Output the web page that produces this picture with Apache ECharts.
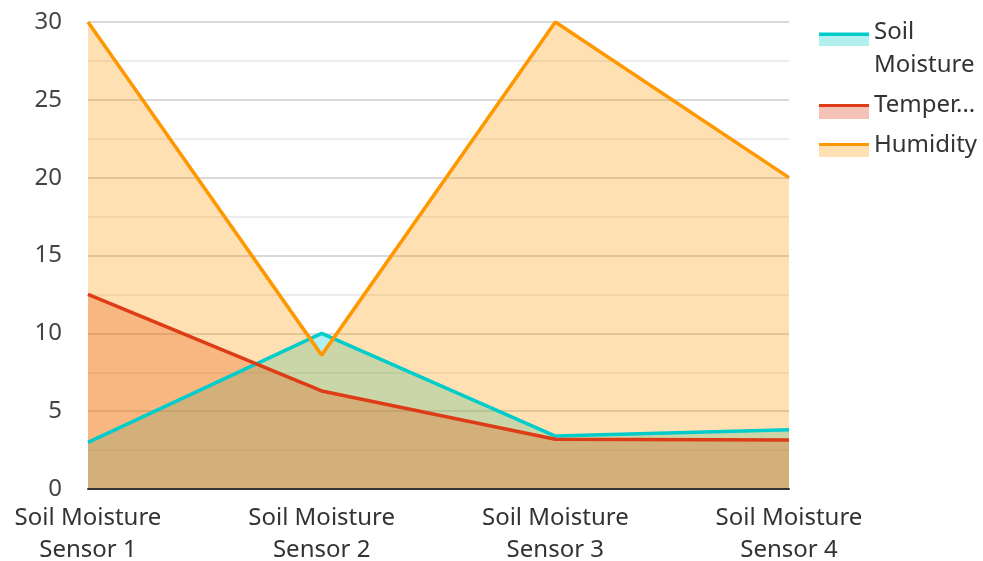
<!DOCTYPE html>
<html><head><meta charset="utf-8">
<script src="https://cdn.jsdelivr.net/npm/echarts@6/dist/echarts.min.js"></script>
<style>html,body{margin:0;padding:0;background:#fff}#c{width:983px;height:561px}</style>
</head><body><div id="c"></div>
<script>
const categories = ['Soil Moisture\nSensor 1','Soil Moisture\nSensor 2','Soil Moisture\nSensor 3','Soil Moisture\nSensor 4'];
const soilMoisture = [3.0, 10.0, 3.4, 3.8];
const temperature = [12.5, 6.3, 3.2, 3.15];
const humidity = [30, 8.6, 30, 20];
const seriesNames = ['Soil Moisture','Temperature','Humidity'];
const colors = ['#00CCCC','#DD3C16','#FF9800'];
const lightColors = ['#B2EFEF','#F4C2B6','#FFE0B2'];
const yTicks = {min:0, max:30, interval:5};

const font = 'Noto Sans';
// legend icon: dark band on top, light band below, inside a transparent box
function iconGrad(i, a, b, c){
  const t = 'rgba(255,255,255,0)';
  return {type:'linear',x:0,y:0,x2:0,y2:1,colorStops:[
    {offset:0,color:a>0?t:colors[i]},{offset:a,color:a>0?t:colors[i]},
    {offset:a,color:colors[i]},{offset:b,color:colors[i]},
    {offset:b,color:lightColors[i]},{offset:c,color:lightColors[i]},
    {offset:c,color:t},{offset:1,color:t}]};
}
const chart = echarts.init(document.getElementById('c'), null, {renderer:'canvas'});
const dataArr = [soilMoisture, temperature, humidity];
chart.setOption({
  animation:false,
  textStyle:{fontFamily:font},
  grid:{left:88, right:194, top:22, bottom:72, containLabel:false, outerBoundsMode:'none'},
  legend:{
    orient:'vertical', left:814, top:11, itemWidth:50, itemHeight:33, itemGap:7, icon:'rect',
    textStyle:{fontFamily:font, fontSize:24, color:'#333', lineHeight:33},
    data:[
      {name:seriesNames[0], itemStyle:{color:iconGrad(0,0,0.11,0.42)}, textStyle:{overflow:'break', width:112}},
      {name:seriesNames[1], itemStyle:{color:iconGrad(1,0.455,0.56,0.91)}, textStyle:{width:112, overflow:'truncate', ellipsis:'...'}},
      {name:seriesNames[2], itemStyle:{color:iconGrad(2,0.424,0.53,0.85)}}
    ]
  },
  xAxis:{
    type:'category', data:categories, boundaryGap:false, z:5,
    axisLine:{lineStyle:{color:'#333', width:2}},
    axisTick:{show:false},
    axisLabel:{fontFamily:font, fontSize:24, color:'#333', lineHeight:32, margin:13},
    splitLine:{show:false}
  },
  yAxis:{
    type:'value', min:yTicks.min, max:yTicks.max, interval:yTicks.interval,
    axisLine:{show:false}, axisTick:{show:false},
    axisLabel:{fontFamily:font, fontSize:24, color:'#444', margin:26},
    splitLine:{lineStyle:{color:'#cccccc', width:1.5}},
    minorTick:{show:false, splitNumber:2},
    minorSplitLine:{show:true, lineStyle:{color:'#e8e8e8', width:1.5}}
  },
  series: dataArr.map((d,i)=>({
    name:seriesNames[i], type:'line', data:d, showSymbol:false, symbol:'none',
    lineStyle:{color:colors[i], width:3.5},
    itemStyle:{color:colors[i]},
    areaStyle:{color:colors[i], opacity:0.3}
  }))
});
</script></body></html>
